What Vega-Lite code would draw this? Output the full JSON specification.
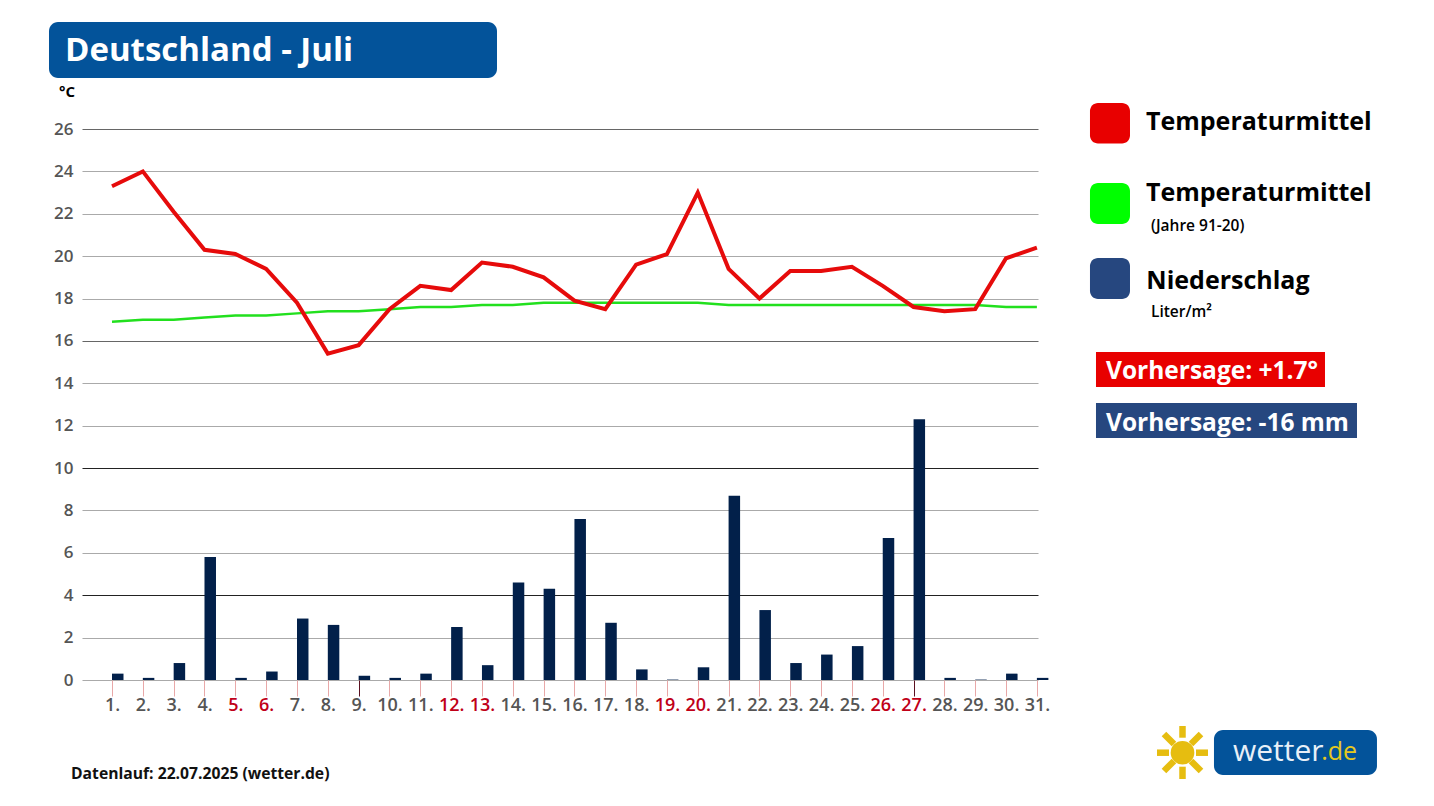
{"$schema":"https://vega.github.io/schema/vega-lite/v6.json","width":956,"height":551,"autosize":{"type":"none"},"padding":{"left":82,"top":129,"right":396,"bottom":126},"background":"white","config":{"view":{"stroke":null},"text":{"font":"Open Sans"},"axis":{"labelFont":"Open Sans"}},
"datasets":{"days":[{"day":1,"temp":23.3,"normal":16.9,"precip":0.3},{"day":2,"temp":24,"normal":17,"precip":0.1},{"day":3,"temp":22.1,"normal":17,"precip":0.8},{"day":4,"temp":20.3,"normal":17.1,"precip":5.8},{"day":5,"temp":20.1,"normal":17.2,"precip":0.1},{"day":6,"temp":19.4,"normal":17.2,"precip":0.4},{"day":7,"temp":17.8,"normal":17.3,"precip":2.9},{"day":8,"temp":15.4,"normal":17.4,"precip":2.6},{"day":9,"temp":15.8,"normal":17.4,"precip":0.2},{"day":10,"temp":17.5,"normal":17.5,"precip":0.1},{"day":11,"temp":18.6,"normal":17.6,"precip":0.3},{"day":12,"temp":18.4,"normal":17.6,"precip":2.5},{"day":13,"temp":19.7,"normal":17.7,"precip":0.7},{"day":14,"temp":19.5,"normal":17.7,"precip":4.6},{"day":15,"temp":19,"normal":17.8,"precip":4.3},{"day":16,"temp":17.9,"normal":17.8,"precip":7.6},{"day":17,"temp":17.5,"normal":17.8,"precip":2.7},{"day":18,"temp":19.6,"normal":17.8,"precip":0.5},{"day":19,"temp":20.1,"normal":17.8,"precip":0.02},{"day":20,"temp":23,"normal":17.8,"precip":0.6},{"day":21,"temp":19.4,"normal":17.7,"precip":8.7},{"day":22,"temp":18,"normal":17.7,"precip":3.3},{"day":23,"temp":19.3,"normal":17.7,"precip":0.8},{"day":24,"temp":19.3,"normal":17.7,"precip":1.2},{"day":25,"temp":19.5,"normal":17.7,"precip":1.6},{"day":26,"temp":18.6,"normal":17.7,"precip":6.7},{"day":27,"temp":17.6,"normal":17.7,"precip":12.3},{"day":28,"temp":17.4,"normal":17.7,"precip":0.1},{"day":29,"temp":17.5,"normal":17.7,"precip":0.02},{"day":30,"temp":19.9,"normal":17.6,"precip":0.3},{"day":31,"temp":20.4,"normal":17.6,"precip":0.1}]},
"layer":[
{"data":{"name":"days"},"mark":{"type":"bar","orient":"vertical","size":11.5,"xOffset":5.75,"color":"#02204a"},"encoding":{
"x":{"field":"day","type":"quantitative","title":null,"scale":{"domain":[0.0269,31.036],"nice":false,"zero":false,"padding":0},"axis":{"values":[1,2,3,4,5,6,7,8,9,10,11,12,13,14,15,16,17,18,19,20,21,22,23,24,25,26,27,28,29,30,31],"tickCount":31,"grid":false,"domain":false,"tickSize":16,"tickWidth":1,"tickColor":{"condition":{"test":"datum.value==9||datum.value==27","value":"#5a1020"},"value":"#e8a8a8"},"labelExpr":"datum.value+'.'","labelFontSize":18,"labelFontWeight":600,"labelPadding":0,"labelOverlap":false,"labelFlush":false,"labelBound":false,"labelColor":{"condition":{"test":"indexof([5,6,12,13,19,20,26,27],datum.value)>=0","value":"#c00018"},"value":"#555555"}}},
"y":{"field":"precip","type":"quantitative","title":null,"scale":{"domain":[0,26],"nice":false,"zero":false},"axis":{"values":[0,2,4,6,8,10,12,14,16,18,20,22,24,26],"tickCount":14,"grid":true,"gridWidth":1.2,"gridColor":{"condition":[{"test":"datum.value==4||datum.value==10","value":"#222222"},{"test":"datum.value==16||datum.value==26","value":"#666666"}],"value":"#aaaaaa"},"domain":false,"ticks":false,"labelFontSize":17,"labelFontWeight":600,"labelPadding":9,"labelColor":"#555555","labelOverlap":false,"labelBound":false}}}},
{"data":{"name":"days"},"mark":{"type":"line","color":"#22e01e","strokeWidth":2.5},"encoding":{"x":{"field":"day","type":"quantitative"},"y":{"field":"normal","type":"quantitative"}}},
{"data":{"name":"days"},"mark":{"type":"line","color":"#e60b0b","strokeWidth":4},"encoding":{"x":{"field":"day","type":"quantitative"},"y":{"field":"temp","type":"quantitative"}}},
{"data":{"values":[{"x":-1.0435,"xEnd":13.488,"y":31.049,"yEnd":28.407},{"x":36.744,"xEnd":42.031,"y":-2.359,"yEnd":-4.483}]},"mark":{"type":"rect","color":"#03539a","cornerRadius":9},"encoding":{"x":{"field":"x","type":"quantitative"},"x2":{"field":"xEnd"},"y":{"field":"y","type":"quantitative"},"y2":{"field":"yEnd"}}},
{"data":{"values":[{"x":32.722,"xEnd":34.02,"y":27.227,"yEnd":25.316}]},"mark":{"type":"rect","color":"#e80000","cornerRadius":8},"encoding":{"x":{"field":"x","type":"quantitative"},"x2":{"field":"xEnd"},"y":{"field":"y","type":"quantitative"},"y2":{"field":"yEnd"}}},
{"data":{"values":[{"x":32.722,"xEnd":34.02,"y":23.452,"yEnd":21.517}]},"mark":{"type":"rect","color":"#00ff00","cornerRadius":8},"encoding":{"x":{"field":"x","type":"quantitative"},"x2":{"field":"xEnd"},"y":{"field":"y","type":"quantitative"},"y2":{"field":"yEnd"}}},
{"data":{"values":[{"x":32.722,"xEnd":34.02,"y":19.913,"yEnd":17.978}]},"mark":{"type":"rect","color":"#26477f","cornerRadius":8},"encoding":{"x":{"field":"x","type":"quantitative"},"x2":{"field":"xEnd"},"y":{"field":"y","type":"quantitative"},"y2":{"field":"yEnd"}}},
{"data":{"values":[{"x":32.917,"xEnd":40.345,"y":15.478,"yEnd":13.826}]},"mark":{"type":"rect","color":"#e80000"},"encoding":{"x":{"field":"x","type":"quantitative"},"x2":{"field":"xEnd"},"y":{"field":"y","type":"quantitative"},"y2":{"field":"yEnd"}}},
{"data":{"values":[{"x":32.917,"xEnd":41.383,"y":13.071,"yEnd":11.419}]},"mark":{"type":"rect","color":"#26477f"},"encoding":{"x":{"field":"x","type":"quantitative"},"x2":{"field":"xEnd"},"y":{"field":"y","type":"quantitative"},"y2":{"field":"yEnd"}}},
{"data":{"values":[{"x":34.895,"xEnd":35.285,"y":-3.431,"yEnd":-3.431},{"x":36.161,"xEnd":36.55,"y":-3.431,"yEnd":-3.431},{"x":35.723,"xEnd":35.723,"y":-2.171,"yEnd":-2.723},{"x":35.723,"xEnd":35.723,"y":-4.091,"yEnd":-4.672},{"x":35.122,"xEnd":35.447,"y":-2.548,"yEnd":-3.02},{"x":36.323,"xEnd":35.998,"y":-2.548,"yEnd":-3.02},{"x":35.122,"xEnd":35.447,"y":-4.294,"yEnd":-3.822},{"x":36.323,"xEnd":35.998,"y":-4.294,"yEnd":-3.822}]},"mark":{"type":"rule","color":"#e6bd10","strokeWidth":6.5},"encoding":{"x":{"field":"x","type":"quantitative"},"x2":{"field":"xEnd"},"y":{"field":"y","type":"quantitative"},"y2":{"field":"yEnd"}}},
{"data":{"values":[{"x":35.723,"y":-3.431}]},"mark":{"type":"point","filled":true,"opacity":1,"color":"#e6bd10","size":560,"shape":"circle"},"encoding":{"x":{"field":"x","type":"quantitative"},"y":{"field":"y","type":"quantitative"}}},
{"data":{"values":[{"x":-0.5245,"y":29.68,"label":"Deutschland - Juli"}]},"mark":{"type":"text","align":"left","baseline":"middle","fontSize":33,"fontWeight":700,"color":"#ffffff"},"encoding":{"x":{"field":"x","type":"quantitative"},"y":{"field":"y","type":"quantitative"},"text":{"field":"label"}}},
{"data":{"values":[{"x":-0.719,"y":27.75,"label":"°C"}]},"mark":{"type":"text","align":"left","baseline":"middle","fontSize":15,"fontWeight":700,"color":"#000000"},"encoding":{"x":{"field":"x","type":"quantitative"},"y":{"field":"y","type":"quantitative"},"text":{"field":"label"}}},
{"data":{"values":[{"x":34.539,"y":26.33,"label":"Temperaturmittel"},{"x":34.539,"y":22.98,"label":"Temperaturmittel"},{"x":34.55,"y":18.83,"label":"Niederschlag"}]},"mark":{"type":"text","align":"left","baseline":"middle","fontSize":25,"fontWeight":700,"color":"#000000"},"encoding":{"x":{"field":"x","type":"quantitative"},"y":{"field":"y","type":"quantitative"},"text":{"field":"label"}}},
{"data":{"values":[{"x":34.701,"y":21.42,"label":"(Jahre 91-20)"},{"x":34.701,"y":17.36,"label":"Liter/m²"}]},"mark":{"type":"text","align":"left","baseline":"middle","fontSize":15.5,"fontWeight":600,"color":"#000000"},"encoding":{"x":{"field":"x","type":"quantitative"},"y":{"field":"y","type":"quantitative"},"text":{"field":"label"}}},
{"data":{"values":[{"x":33.241,"y":14.53,"label":"Vorhersage: +1.7°"},{"x":33.241,"y":12.08,"label":"Vorhersage: -16 mm"}]},"mark":{"type":"text","align":"left","baseline":"middle","fontSize":24.5,"fontWeight":700,"color":"#ffffff"},"encoding":{"x":{"field":"x","type":"quantitative"},"y":{"field":"y","type":"quantitative"},"text":{"field":"label"}}},
{"data":{"values":[{"x":-0.33,"y":-4.43,"label":"Datenlauf: 22.07.2025 (wetter.de)"}]},"mark":{"type":"text","align":"left","baseline":"middle","fontSize":15.7,"fontWeight":700,"color":"#111111"},"encoding":{"x":{"field":"x","type":"quantitative"},"y":{"field":"y","type":"quantitative"},"text":{"field":"label"}}},
{"data":{"values":[{"x":37.361,"y":-3.398,"label":"wetter"}]},"mark":{"type":"text","align":"left","baseline":"middle","fontSize":30,"color":"#e8f0f8"},"encoding":{"x":{"field":"x","type":"quantitative"},"y":{"field":"y","type":"quantitative"},"text":{"field":"label"}}},
{"data":{"values":[{"x":40.22,"y":-3.398,"label":".de"}]},"mark":{"type":"text","align":"left","baseline":"middle","fontSize":25,"color":"#e6c81e"},"encoding":{"x":{"field":"x","type":"quantitative"},"y":{"field":"y","type":"quantitative"},"text":{"field":"label"}}}
]}
